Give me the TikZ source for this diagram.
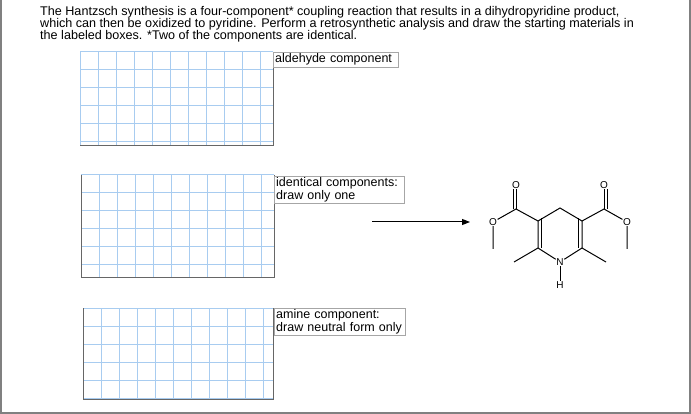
\documentclass[tikz,border=0pt]{standalone}
\usepackage{fontspec}
\setmainfont{Liberation Sans}
\usetikzlibrary{arrows.meta}
\definecolor{gridc}{RGB}{168,204,240}
\begin{document}
\begin{tikzpicture}[x=1pt,y=-1pt,
  lbl/.style={draw=gray!70,fill=white,anchor=north west,inner xsep=2pt,inner ysep=1.5pt,font=\fontsize{12.5}{11}\selectfont,align=left},
  grid/.style={draw=gridc,line width=1pt},
  bond/.style={line width=1pt},
  atom/.style={font=\fontsize{10}{10}\selectfont,inner sep=0.5pt,fill=white}]
\useasboundingbox (0,0) rectangle (691,414);
\draw[gray,line width=2pt] (1,-2) -- (1,413) -- (690,413) -- (690,-2);
\node[anchor=north west,align=left,font=\fontsize{12.6}{12}\selectfont,inner sep=0pt] (intro) at (40,6)
{The Hantzsch synthesis is a four-component* coupling reaction that results in a dihydropyridine product,\\
which can then be oxidized to pyridine. Perform a retrosynthetic analysis and draw the starting materials in\\
the labeled boxes. *Two of the components are identical.};
% boxes
\newcommand{\gbox}[4]{%
  \begin{scope}
  \clip (#1,#2) rectangle (#3,#4);
  \foreach \i in {0,...,11} \draw[grid] (#1+18*\i,#2) -- (#1+18*\i,#4);
  \foreach \j in {0,...,6} \draw[grid] (#1,#2+18*\j) -- (#3,#2+18*\j);
  \end{scope}
  \draw[gray!80!black,line width=1pt] (#3,#2) -- (#3,#4) -- (#1,#4);}
\gbox{80}{52}{273}{146}
\gbox{81}{175}{274}{278}
\draw[gray!80!black,line width=1pt] (81,175)--(81,278);
\gbox{83}{308}{273}{399}
\draw[gray!80!black,line width=1pt] (83,308)--(83,399);
\node[lbl,text width=121pt] (l1) at (273,52) {aldehyde component};
\node[lbl,text width=126pt] (l2) at (274,176) {identical components:\\draw only one};
\node[lbl,text width=127pt] (l3) at (274,308) {amine component:\\draw neutral form only};
% arrow
\coordinate (a1) at (372,222); \coordinate (a2) at (470,222);
\draw[line width=1pt,-{Triangle[length=8pt,width=6pt]}] (a1) -- (a2);
% molecule
\coordinate (C2) at (538,248); \coordinate (C3) at (538,221);
\coordinate (C4) at (560,208); \coordinate (C5) at (582,221);
\coordinate (C6) at (582,248);
\node[atom] (N) at (560,262) {N};
\node[atom] (H) at (560,285) {H};
\coordinate (M2) at (514,262); \coordinate (M6) at (606,262);
\coordinate (CL) at (516,209); \node[atom] (OL) at (516,185) {O};
\node[atom] (EL) at (493,222) {O}; \coordinate (ML) at (493,249);
\coordinate (CR) at (604,209); \node[atom] (OR) at (604,185) {O};
\node[atom] (ER) at (627,222) {O}; \coordinate (MR) at (627,249);
\draw[bond] (C2)--(C3)--(C4)--(C5)--(C6);
\draw[bond] (C2)--(N)--(C6); \draw[bond] (N)--(H);
\draw[bond] ([xshift=3.5pt]C2) -- ([xshift=3.5pt,yshift=3pt]C3);
\draw[bond] ([xshift=-3.5pt]C6) -- ([xshift=-3.5pt,yshift=3pt]C5);
\draw[bond] (C2)--(M2); \draw[bond] (C6)--(M6);
\draw[bond] (C3)--(CL)--(EL)--(ML);
\draw[bond] (C5)--(CR)--(ER)--(MR);
\draw[bond] (CL)--(OL); \draw[bond] ([xshift=-3pt]CL)--([xshift=-3pt]OL.south);
\draw[bond] (CR)--(OR); \draw[bond] ([xshift=3pt]CR)--([xshift=3pt]OR.south);
\end{tikzpicture}
\end{document}
